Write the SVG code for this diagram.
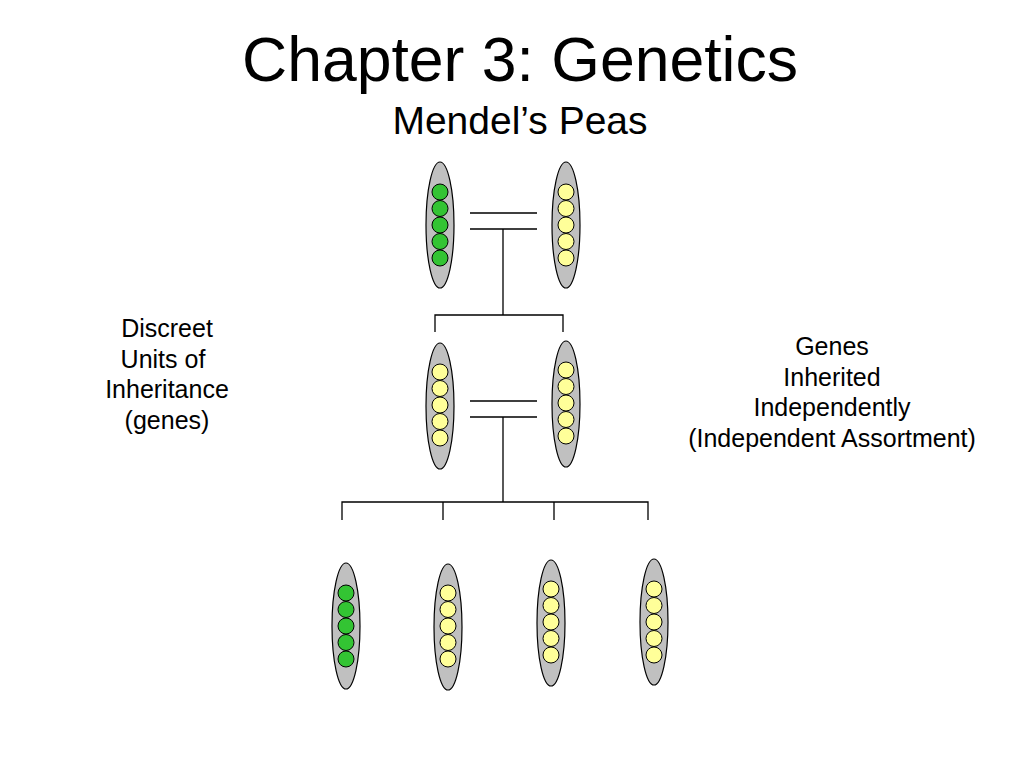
<svg xmlns="http://www.w3.org/2000/svg" width="1024" height="768" viewBox="0 0 1024 768">
<defs><style>
.pod{fill:#c0c0c0;stroke:#000;stroke-width:1.2}
.g{fill:#33c433;stroke:#000;stroke-width:1}
.y{fill:#ffff99;stroke:#000;stroke-width:1}
.ln{stroke:#000;stroke-width:1.3;fill:none}
text{font-family:"Liberation Sans",Arial,sans-serif;fill:#000}
</style>
<g id="peasG"><circle class="g" cx="0" cy="-33" r="8"/><circle class="g" cx="0" cy="-16.5" r="8"/><circle class="g" cx="0" cy="0" r="8"/><circle class="g" cx="0" cy="16.5" r="8"/><circle class="g" cx="0" cy="33" r="8"/></g>
<g id="peasY"><circle class="y" cx="0" cy="-33" r="8"/><circle class="y" cx="0" cy="-16.5" r="8"/><circle class="y" cx="0" cy="0" r="8"/><circle class="y" cx="0" cy="16.5" r="8"/><circle class="y" cx="0" cy="33" r="8"/></g>
</defs>
<rect width="1024" height="768" fill="#fff"/>
<text x="520" y="81" font-size="62.5" text-anchor="middle">Chapter 3: Genetics</text>
<text x="520" y="134" font-size="39" text-anchor="middle">Mendel’s Peas</text>
<g id="p1"><ellipse class="pod" cx="440" cy="225" rx="14" ry="63"/><use href="#peasG" x="440" y="225"/></g>
<g id="p2"><ellipse class="pod" cx="566" cy="225" rx="14" ry="63"/><use href="#peasY" x="566" y="225"/></g>
<g id="p3"><ellipse class="pod" cx="440" cy="406" rx="14" ry="63"/><use href="#peasY" x="440" y="405"/></g>
<g id="p4"><ellipse class="pod" cx="566" cy="404" rx="14" ry="63"/><use href="#peasY" x="566" y="403"/></g>
<g id="p5"><ellipse class="pod" cx="346" cy="626" rx="14" ry="63"/><use href="#peasG" x="346" y="626"/></g>
<g id="p6"><ellipse class="pod" cx="448" cy="627" rx="14" ry="63"/><use href="#peasY" x="448" y="626"/></g>
<g id="p7"><ellipse class="pod" cx="551" cy="623" rx="14" ry="63"/><use href="#peasY" x="551" y="622"/></g>
<g id="p8"><ellipse class="pod" cx="654" cy="622" rx="14" ry="63"/><use href="#peasY" x="654" y="622"/></g>
<g id="connectors">
<path class="ln" d="M470 213H537M470 229H537M503 229V315M435 332V315H563V332"/>
<path class="ln" d="M470 401H537M470 417H537M503 417V502M342 520V502H648V520M443 502V520M554 502V520"/>
</g>
<g id="labelL" text-anchor="middle">
<text x="167" y="337" font-size="25">Discreet</text>
<text x="163" y="368" font-size="25">Units of</text>
<text x="167" y="398" font-size="25">Inheritance</text>
<text x="167" y="429" font-size="25">(genes)</text>
</g>
<g id="labelR" text-anchor="middle">
<text x="832" y="355" font-size="25">Genes</text>
<text x="832" y="386" font-size="25">Inherited</text>
<text x="832" y="416" font-size="25">Independently</text>
<text x="832" y="447" font-size="25">(Independent Assortment)</text>
</g>
</svg>
